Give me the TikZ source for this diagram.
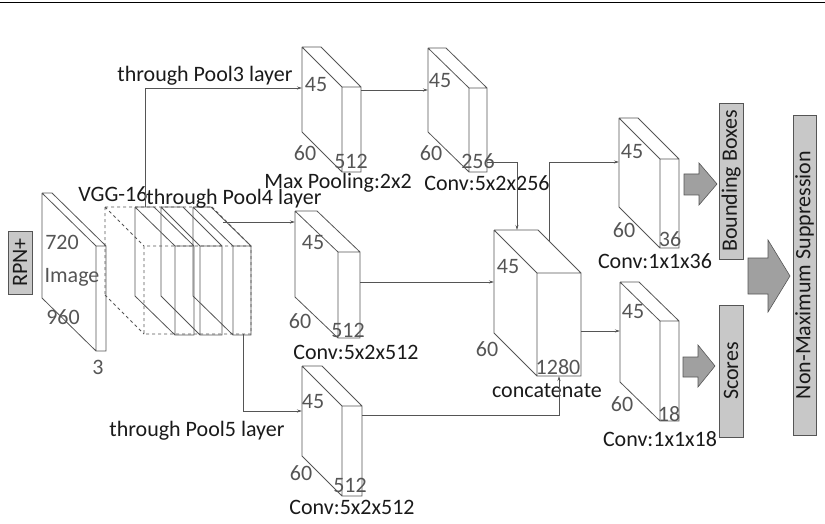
\documentclass[tikz,border=0pt]{standalone}
\usepackage{fontspec}
\setmainfont{Carlito}
\usetikzlibrary{arrows.meta}
\definecolor{ln}{HTML}{555555}
\definecolor{nm}{HTML}{555555}
\definecolor{tx}{HTML}{1A1A1A}
\definecolor{gb}{HTML}{C8C8C8}
\definecolor{ga}{HTML}{A0A0A0}
\newcommand\blk[7][]{%
 \draw[ln,line width=0.8pt,#1] (#2,#3)--(#2,#3+#6) (#2,#3)--(#2+#4,#3+#5) (#2+#7,#3)--(#2+#4+#7,#3+#5) (#2,#3)--(#2+#7,#3)
 (#2,#3+#6)--(#2+#4,#3+#5+#6) (#2+#4,#3+#5) rectangle (#2+#4+#7,#3+#5+#6);}
\begin{document}
\begin{tikzpicture}[x=1pt,y=-1pt,
 num/.style={text=nm,font=\fontsize{22}{24}\selectfont,inner sep=0pt},
 lab/.style={text=tx,font=\fontsize{22}{24}\selectfont,inner sep=0pt},
 con/.style={ln,line width=0.7pt,-{Stealth[length=5pt,width=3pt]}},
 gbox/.style={draw=ln,fill=gb,line width=0.8pt,inner sep=0pt},
 vt/.style={rotate=90,text=tx,font=\fontsize{22}{24}\selectfont}]
\useasboundingbox (0,0) rectangle (825,524);
\draw[black,line width=0.6pt] (0,2)--(825,2);
% gray boxes
\node[gbox,minimum width=24pt,minimum height=63pt] (rpn) at (20,262.5) {};
\node[vt] at (rpn) {RPN+};
\node[gbox,minimum width=24pt,minimum height=156pt] (bb) at (731,181) {};
\node[vt] at (bb) {Bounding Boxes};
\node[gbox,minimum width=24pt,minimum height=132pt] (sc) at (731,371) {};
\node[vt] at (sc) {Scores};
\node[gbox,minimum width=23pt,minimum height=320pt] (nms) at (804.5,275) {};
\node[vt] at (nms) {Non-Maximum Suppression};
% block arrows
\draw[ln,fill=ga,line width=0.6pt] (684,174)--(699,174)--(699,163)--(717,184)--(699,205)--(699,195)--(684,195)--cycle;
\draw[ln,fill=ga,line width=0.6pt] (683,357)--(698,357)--(698,345)--(715,366)--(698,387)--(698,377)--(683,377)--cycle;
\draw[ln,fill=ga,line width=0.6pt] (748,258)--(768,258)--(768,240)--(790,276)--(768,312)--(768,294)--(748,294)--cycle;
% image
\blk{42}{193}{54}{53}{105}{10}
\node[num] at (62,242) {720};
\node[num] at (72,277) {Image};
\node[num] at (63,317) {960};
\node[num] at (98,367) {3};
% VGG
\blk[dashed]{105}{207}{39}{39}{88}{107}
\blk{135}{207}{40}{39}{89}{19}
\blk{161}{207}{39}{39}{89}{22}
\blk{193}{207}{40}{39}{89}{18}
\node[lab] at (113,194) {VGG-16};
\node[lab] at (234,199) {through Pool4 layer};
% pool3
\blk{302}{47}{40}{40}{85}{19}
\node[num] at (316,85) {45};
\node[num] at (305,153) {60};
\node[num] at (351,161) {512};
\node[lab] at (338,183) {Max Pooling:2x2};
% conv256
\blk{428}{48}{41}{40}{84}{18}
\node[num] at (440,81) {45};
\node[num] at (431,153) {60};
\node[num] at (478,161) {256};
\node[lab] at (487,183) {Conv:5x2x256};
% pool4
\blk{295}{211}{43}{41}{86}{22}
\node[num] at (313,243) {45};
\node[num] at (300,321) {60};
\node[num] at (348,330) {512};
\node[lab] at (356,352) {Conv:5x2x512};
% pool5
\blk{302}{366}{40}{40}{90}{20}
\node[num] at (313,402) {45};
\node[num] at (301,473) {60};
\node[num] at (350,485) {512};
\node[lab] at (352,507) {Conv:5x2x512};
\node[lab] at (197,431) {through Pool5 layer};
\node[lab] at (205,76) {through Pool3 layer};
% concat
\blk{494}{230}{43}{43}{103}{44}
\node[num] at (508,267) {45};
\node[num] at (487,349) {60};
\node[num] at (558,367) {1280};
\node[lab] at (547,391) {concatenate};
% bbox conv
\blk{619}{118}{41}{41}{89}{19}
\node[num] at (632,152) {45};
\node[num] at (624,230) {60};
\node[num] at (670,239) {36};
\node[lab] at (655,261) {Conv:1x1x36};
% scores conv
\blk{620}{282}{40}{39}{100}{19}
\node[num] at (633,312) {45};
\node[num] at (622,404) {60};
\node[num] at (669,414) {18};
\node[lab] at (660,439) {Conv:1x1x18};
% connectors
\coordinate (v3) at (145,207); \coordinate (p3) at (302,88);
\draw[con] (v3) |- (p3);
\coordinate (p3o) at (361,90); \coordinate (c2i) at (428,90);
\draw[con] (p3o) -- (c2i);
\coordinate (c2o) at (487,162); \coordinate (cti) at (517,230);
\draw[con] (c2o) -| (cti);
\coordinate (v4) at (223,222); \coordinate (p4) at (295,222);
\draw[con] (v4) -- (p4);
\coordinate (p4o) at (360,282); \coordinate (ct4) at (494,282);
\draw[con] (p4o) -- (ct4);
\coordinate (v5) at (243,334); \coordinate (p5) at (302,411);
\draw[con] (v5) |- (p5);
\coordinate (p5o) at (362,415); \coordinate (ctb) at (559,376);
\draw[con] (p5o) -| (ctb);
\coordinate (cto) at (549,241); \coordinate (bbi) at (619,162);
\draw[con] (cto) |- (bbi);
\coordinate (cto2) at (581,331); \coordinate (sci) at (620,331);
\draw[con] (cto2) -- (sci);
\end{tikzpicture}
\end{document}
